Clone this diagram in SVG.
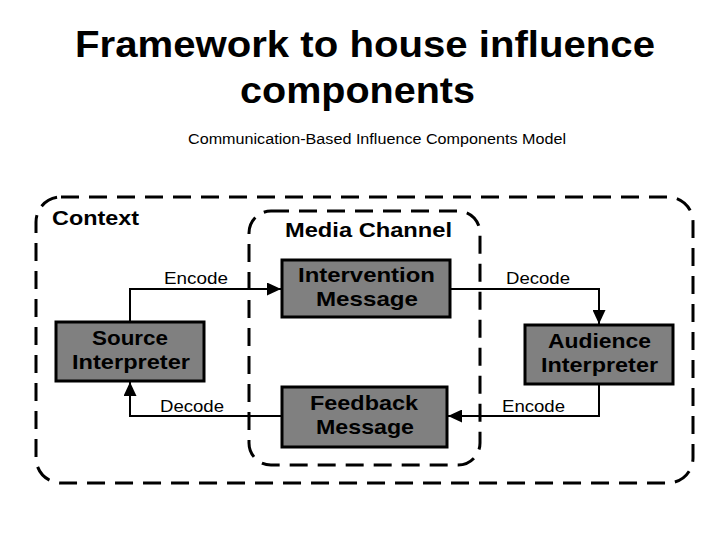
<svg xmlns="http://www.w3.org/2000/svg" width="728" height="546" viewBox="0 0 728 546">
<defs>
<marker id="arr" viewBox="0 0 14 13" refX="14" refY="6.5" markerWidth="7" markerHeight="6.5" markerUnits="strokeWidth" orient="auto"><path d="M0,0 L14,6.5 L0,13 Z" fill="#000"/></marker>
</defs>
<style>
.t{font-family:"Liberation Sans",Arial,sans-serif;fill:#000;text-anchor:middle}
.title{font-size:37px;font-weight:bold}
.sub{font-size:14px}
.lbl{font-size:16px}
.grp{font-size:20px;font-weight:bold;text-anchor:start}
.box{fill:#808080;stroke:#000;stroke-width:3}
.bt{font-size:21px;font-weight:bold}
.dash{fill:none;stroke:#000;stroke-width:3;stroke-dasharray:18 10}
.con{fill:none;stroke:#000;stroke-width:2;marker-end:url(#arr)}
</style>
<rect width="728" height="546" fill="#fff"/>
<text class="t title" x="365" y="57" textLength="580" lengthAdjust="spacingAndGlyphs">Framework to house influence</text>
<text class="t title" x="357.5" y="103" textLength="235" lengthAdjust="spacingAndGlyphs">components</text>
<text class="t sub" x="377" y="144" textLength="378" lengthAdjust="spacingAndGlyphs">Communication-Based Influence Components Model</text>
<g id="context">
<rect class="dash" x="36" y="197" width="657" height="286" rx="25"/>
<text class="t grp" x="52" y="225" textLength="87" lengthAdjust="spacingAndGlyphs">Context</text>
</g>
<g id="media-channel">
<rect class="dash" x="249" y="211" width="231" height="254" rx="22"/>
<text class="t grp" x="285" y="237" textLength="167" lengthAdjust="spacingAndGlyphs">Media Channel</text>
</g>
<g id="connectors">
<path class="con" d="M130,321 V289 H281"/>
<path class="con" d="M451,289 H599 V324"/>
<path class="con" d="M599,384 V416 H448"/>
<path class="con" d="M282,416 H130 V382"/>
<text class="t lbl" x="196" y="284" textLength="64" lengthAdjust="spacingAndGlyphs">Encode</text>
<text class="t lbl" x="538" y="284" textLength="64" lengthAdjust="spacingAndGlyphs">Decode</text>
<text class="t lbl" x="192" y="412" textLength="64" lengthAdjust="spacingAndGlyphs">Decode</text>
<text class="t lbl" x="533.5" y="412" textLength="63" lengthAdjust="spacingAndGlyphs">Encode</text>
</g>
<g id="intervention">
<rect class="box" x="282" y="260" width="168" height="57"/>
<text class="t bt" x="366.5" y="282" textLength="137" lengthAdjust="spacingAndGlyphs">Intervention</text>
<text class="t bt" x="367" y="306" textLength="102" lengthAdjust="spacingAndGlyphs">Message</text>
</g>
<g id="source">
<rect class="box" x="56" y="322" width="148" height="59"/>
<text class="t bt" x="130" y="345" textLength="76" lengthAdjust="spacingAndGlyphs">Source</text>
<text class="t bt" x="131" y="369" textLength="118" lengthAdjust="spacingAndGlyphs">Interpreter</text>
</g>
<g id="audience">
<rect class="box" x="525" y="325" width="148" height="59"/>
<text class="t bt" x="599.5" y="348" textLength="103" lengthAdjust="spacingAndGlyphs">Audience</text>
<text class="t bt" x="599.5" y="372" textLength="117" lengthAdjust="spacingAndGlyphs">Interpreter</text>
</g>
<g id="feedback">
<rect class="box" x="282" y="387" width="165" height="60"/>
<text class="t bt" x="364" y="410" textLength="108" lengthAdjust="spacingAndGlyphs">Feedback</text>
<text class="t bt" x="365" y="434" textLength="98" lengthAdjust="spacingAndGlyphs">Message</text>
</g>
</svg>
